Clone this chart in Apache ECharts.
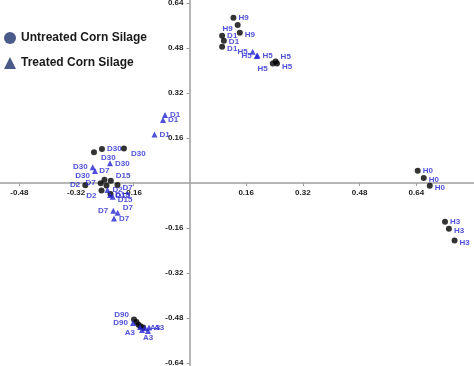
<!DOCTYPE html>
<html>
<head>
<meta charset="utf-8">
<script src="https://cdn.jsdelivr.net/npm/echarts@6/dist/echarts.min.js"></script>
<style>
html,body{margin:0;padding:0;background:#fff;}
#chart{width:474px;height:366px;}
</style>
</head>
<body>
<div id="chart"></div>
<script>
// ---------- DATA ----------
const untreatedNames = ['H9','H9','H9','D1','D1','D1','H5','H5','H5','H0','H0','H0','H3','H3','H3',
  'D30','D30','D30','D7','D7','D7','D15','D2','D2','D2','D15','D90','D90','D90','A3','A3'];
const untreatedX = [0.124,0.136,0.142,0.092,0.097,0.092,0.243,0.235,0.247,0.644,0.661,0.678,0.721,0.732,0.748,
  -0.247,-0.2695,-0.185,-0.240,-0.2506,-0.2032,-0.2221,-0.294,-0.2483,-0.2342,-0.2229,-0.1566,-0.1496,-0.1439,-0.1383,-0.131];
const untreatedY = [0.588,0.562,0.535,0.524,0.506,0.485,0.432,0.425,0.425,0.044,0.018,-0.010,-0.138,-0.163,-0.205,
  0.121,0.109,0.123,0.012,-0.001,-0.007,0.008,-0.008,-0.027,-0.009,-0.039,-0.486,-0.495,-0.504,-0.510,-0.514];

const treatedNames = ['D1','D1','D1','H5','H5','H5','D30','D30','D30','D2','D15','D15','D7','D7','D7',
  'D90','A3','A3','A3','A3','A3'];
const treatedX = [-0.0691,-0.0748,-0.0988,0.1783,0.1896,0.1919,-0.2731,-0.2667,-0.2243,-0.2314,-0.2243,-0.2167,-0.215,-0.2026,-0.2130,
  -0.1594,-0.1397,-0.1256,-0.1143,-0.134,-0.117];
const treatedY = [0.242,0.224,0.173,0.467,0.452,0.454,0.056,0.043,0.070,-0.025,-0.043,-0.049,-0.099,-0.106,-0.126,
  -0.498,-0.512,-0.516,-0.514,-0.523,-0.527];

const xTicks = [-0.48,-0.32,-0.16,0.16,0.32,0.48,0.64];
const yTicks = [-0.64,-0.48,-0.32,-0.16,0.16,0.32,0.48,0.64];

// ---------- LABEL PLACEMENT (style) ----------
const untreatedLab = [
  ['right',0,0],['left',0,4],['right',0,2],['right',0,0],['right',0,1],['right',0,2],
  ['right',0,-5],['left',0,5],['right',0,3],['right',0,0],['right',0,2],['right',0,2],
  ['right',0,0],['right',0,2],['right',0,2],
  ['right',0,0],['right',2,5],['right',2,5],['top',0,0],['left',0,0],['right',0,3],['right',0,-5],
  ['left',0,0],['left',0,5],null,['right',0,2],['left',0,-5],null,null,null,null
];
const treatedLab = [
  ['right',0,0],['right',0,0],['right',0,0],['left',0,0],['left',0,0],['right',0,0],
  ['left',0,0],['left',0,5],['right',0,0],['right',0,0],['right',0,0],['right',0,3],
  ['left',0,0],['right',0,-5],['right',0,0],
  ['left',0,0],['left',0,6],['right',0,0],['right',0,0],null,['bottom',0,-2]
];

const BLUE = '#2424d2';
const W = 474, H = 366;
const XMIN = -0.5347, XMAX = 0.8028, YMIN = -0.6512, YMAX = 0.6512;

function build(names, xs, ys, labs){
  return names.map((n,i)=>{
    const l = labs[i];
    return {
      name: n,
      value: [xs[i], ys[i]],
      label: l ? {show:true, position:l[0], offset:[l[1],l[2]]} : {show:false}
    };
  });
}

const labelStyle = {
  show:true, formatter:'{b}', color:BLUE, fontSize:8, fontWeight:'bold',
  fontFamily:'Liberation Sans, Arial, sans-serif', distance:2
};
const axisLabelStyle = {
  fontSize:8, fontWeight:'bold', color:'#222', fontFamily:'Liberation Sans, Arial, sans-serif',
  formatter: v => v.toFixed(2)
};

const zeroY = H * (YMAX - 0) / (YMAX - YMIN);
const zeroX = W * (0 - XMIN) / (XMAX - XMIN);

const chart = echarts.init(document.getElementById('chart'), null, {renderer:'canvas'});
chart.setOption({
  animation:false,
  backgroundColor:'#fff',
  grid:{left:0,right:0,top:0,bottom:0,containLabel:false,outerBoundsMode:'none'},
  legend:{
    orient:'vertical', left:4, top:32, padding:0, itemGap:13, itemWidth:12, itemHeight:12,
    selectedMode:false,
    textStyle:{fontSize:12, fontWeight:'bold', color:'#1a1a1a', fontFamily:'Liberation Sans, Arial, sans-serif'},
    data:[
      {name:'Untreated Corn Silage', icon:'circle', itemStyle:{color:'#1d326b'}},
      {name:'Treated Corn Silage', icon:'triangle', itemStyle:{color:'#1d326b'}}
    ]
  },
  xAxis:{
    type:'value', min:XMIN, max:XMAX, position:'bottom', offset:-(H - zeroY),
    axisLine:{onZero:false, lineStyle:{color:'#9e9e9e', width:1.5}},
    axisTick:{show:true, customValues:xTicks, length:3, lineStyle:{color:'#9e9e9e'}},
    axisLabel:Object.assign({customValues:xTicks, margin:6}, axisLabelStyle),
    splitLine:{show:false}
  },
  yAxis:{
    type:'value', min:YMIN, max:YMAX, position:'left', offset:-zeroX,
    axisLine:{onZero:false, lineStyle:{color:'#9e9e9e', width:1.5}},
    axisTick:{show:true, customValues:yTicks, length:3, lineStyle:{color:'#9e9e9e'}},
    axisLabel:Object.assign({customValues:yTicks, margin:6}, axisLabelStyle),
    splitLine:{show:false}
  },
  series:[
    {
      name:'Untreated Corn Silage', type:'scatter', symbol:'circle', symbolSize:6,
      itemStyle:{color:'#000'},
      label:labelStyle,
      data:build(untreatedNames, untreatedX, untreatedY, untreatedLab)
    },
    {
      name:'Treated Corn Silage', type:'scatter', symbol:'triangle', symbolSize:6,
      itemStyle:{color:BLUE},
      label:labelStyle,
      data:build(treatedNames, treatedX, treatedY, treatedLab)
    }
  ]
});
</script>
</body>
</html>
